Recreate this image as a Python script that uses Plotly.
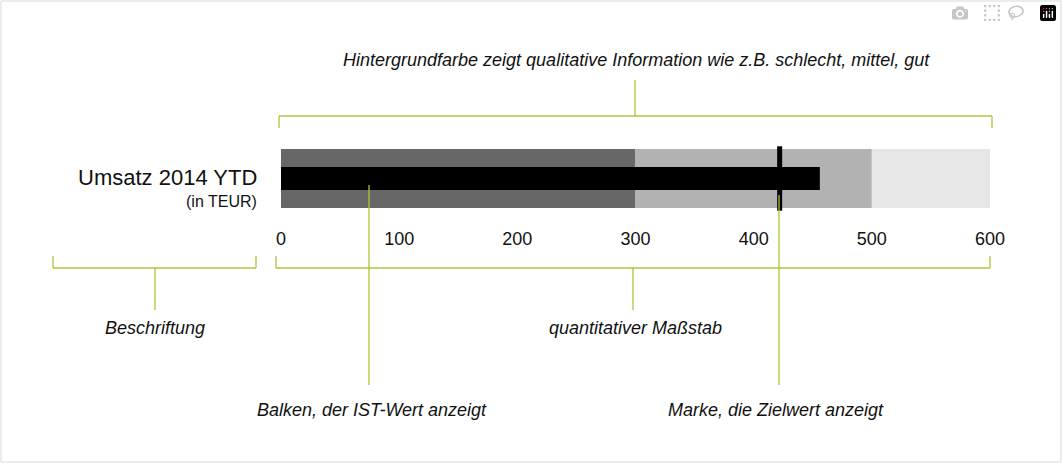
import plotly.graph_objects as go

band_starts = [0, 300, 500]
band_ends = [300, 500, 600]
band_colors = ["#676767", "#b2b2b2", "#e6e6e6"]
actual_value = 456
target_value = 422
tick_values = [0, 100, 200, 300, 400, 500, 600]
title_main = "Umsatz 2014 YTD"
title_sub = "(in TEUR)"

W, H = 1062, 463
L, R = 281, 990
GREEN = "#a8c83a"
FONT = "Liberation Sans, Arial, sans-serif"

def X(px):
    return (px - L) / (R - L)

fig = go.Figure()
BY = 178.5
fig.add_trace(go.Bar(orientation="h", y=[BY]*3, base=band_starts,
                     x=[e - s for s, e in zip(band_starts, band_ends)],
                     width=[59]*3, marker=dict(color=band_colors, line_width=0),
                     hoverinfo="skip"))
fig.add_trace(go.Bar(orientation="h", y=[BY], base=[0], x=[actual_value], width=[23],
                     marker=dict(color="black", line_width=0)))
fig.add_trace(go.Scatter(x=[target_value], y=[BY], mode="markers",
                         marker=dict(symbol="line-ns", size=46, line=dict(width=5, color="black"))))

shapes = []
def line(x0, y0, x1, y1, color=GREEN, w=1.3):
    shapes.append(dict(type="line", xref="paper", yref="y", x0=X(x0), y0=y0, x1=X(x1), y1=y1,
                       line=dict(color=color, width=w)))
shapes.append(dict(type="rect", xref="paper", yref="y", x0=X(1), y0=1, x1=X(1061), y1=462,
                   line=dict(color="#d9d9d9", width=1), layer="below"))
line(279, 116, 992, 116); line(279, 116, 279, 128); line(992, 116, 992, 128); line(635, 80, 635, 116)
line(276, 268, 990, 268); line(276, 256, 276, 268); line(990, 256, 990, 268); line(633, 268, 633, 310)
line(53, 268, 256, 268); line(53, 256, 53, 268); line(256, 256, 256, 268); line(155, 268, 155, 310)
line(369, 185, 369, 385); line(779, 195, 779, 385)

anns = []
def txt(px, py, t, size=17, italic=True, xanchor="center"):
    anns.append(dict(xref="paper", yref="y", x=X(px), y=py, text=t, showarrow=False,
                     xanchor=xanchor, yanchor="middle",
                     font=dict(family=FONT, size=size, color="#111",
                               style="italic" if italic else "normal")))
txt(636, 60, "Hintergrundfarbe zeigt qualitative Information wie z.B. schlecht, mittel, gut", size=18)
txt(155, 328, "Beschriftung", size=18)
txt(635, 328, "quantitativer Maßstab", size=18)
txt(372, 410, "Balken, der IST-Wert anzeigt", size=18)
txt(776, 410, "Marke, die Zielwert anzeigt", size=18)
txt(259, 177, title_main, size=22, italic=False, xanchor="right")
txt(259, 201, title_sub, size=16, italic=False, xanchor="right")

fig.update_layout(
    width=W, height=H, margin=dict(l=L, r=W - R, t=0, b=0),
    paper_bgcolor="white", plot_bgcolor="rgba(0,0,0,0)",
    barmode="overlay", showlegend=False, shapes=shapes, annotations=anns,
    xaxis=dict(range=[0, 600], tickvals=tick_values, showgrid=False, zeroline=False,
               showline=False, ticks="", anchor="free", position=1 - 226 / H,
               tickfont=dict(family=FONT, size=18, color="#111"), fixedrange=True),
    yaxis=dict(range=[H, 0], visible=False, fixedrange=True),
)
fig.write_html("out.html")
with open("out.html", encoding="utf-8") as f:
    html = f.read()
html = html.replace("<head>", "<head><style>html,body{margin:0;padding:0;overflow:hidden}</style>", 1)
with open("out.html", "w", encoding="utf-8") as f:
    f.write(html)
